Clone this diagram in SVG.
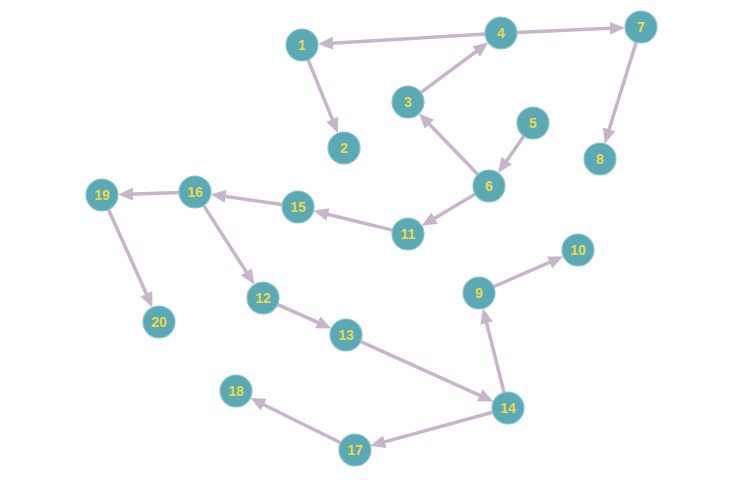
<svg xmlns="http://www.w3.org/2000/svg" width="747" height="480" viewBox="0 0 747 480">
<style>
.n circle{fill:#5ba9b4;stroke:#8ac5cc;stroke-width:1.2}
.n text{fill:#e9da4a;font-family:"Liberation Sans",Arial,sans-serif;font-weight:bold;font-size:14px;text-anchor:middle;dominant-baseline:central}
#edges path{stroke:#c7b5ca;stroke-width:3.5;fill:none;marker-end:url(#ah)}
</style>
<defs>
<marker id="ah" markerUnits="userSpaceOnUse" markerWidth="15" markerHeight="13" refX="5" refY="6.5" orient="auto">
<path d="M0,0 L15,6.5 L0,13 z" fill="#c7b5ca"/>
</marker>
</defs>
<rect width="747" height="480" fill="#fff"/>
<g id="edges">
<path d="M486.0,33.9 L328.0,43.4"/>
<path d="M516.0,32.4 L615.0,28.1"/>
<path d="M307.7,58.9 L334.2,123.9"/>
<path d="M420.0,93.1 L480.2,48.5"/>
<path d="M478.6,175.2 L426.0,120.7"/>
<path d="M524.4,135.3 L503.9,164.7"/>
<path d="M636.5,41.3 L607.7,134.1"/>
<path d="M476.1,193.6 L430.4,220.7"/>
<path d="M393.4,230.4 L323.2,213.2"/>
<path d="M283.2,204.8 L220.7,195.7"/>
<path d="M180.0,192.5 L128.0,194.2"/>
<path d="M203.1,204.6 L249.0,276.1"/>
<path d="M108.1,208.7 L148.4,298.3"/>
<path d="M276.7,304.1 L322.3,324.4"/>
<path d="M359.7,341.2 L484.3,397.3"/>
<path d="M504.3,393.5 L485.4,318.2"/>
<path d="M492.8,287.0 L554.1,260.4"/>
<path d="M493.5,412.0 L380.0,443.1"/>
<path d="M341.6,443.3 L259.3,402.5"/>
</g>
<g id="n1" class="n"><circle cx="302" cy="45" r="16"/><text x="302" y="45">1</text></g>
<g id="n2" class="n"><circle cx="344" cy="148" r="16"/><text x="344" y="148">2</text></g>
<g id="n3" class="n"><circle cx="408" cy="102" r="16"/><text x="408" y="102">3</text></g>
<g id="n4" class="n"><circle cx="501" cy="33" r="16"/><text x="501" y="33">4</text></g>
<g id="n5" class="n"><circle cx="533" cy="123" r="16"/><text x="533" y="123">5</text></g>
<g id="n6" class="n"><circle cx="489" cy="186" r="16"/><text x="489" y="186">6</text></g>
<g id="n7" class="n"><circle cx="641" cy="27" r="16"/><text x="641" y="27">7</text></g>
<g id="n8" class="n"><circle cx="600" cy="159" r="16"/><text x="600" y="159">8</text></g>
<g id="n9" class="n"><circle cx="479" cy="293" r="16"/><text x="479" y="293">9</text></g>
<g id="n10" class="n"><circle cx="578" cy="250" r="16"/><text x="578" y="250">10</text></g>
<g id="n11" class="n"><circle cx="408" cy="234" r="16"/><text x="408" y="234">11</text></g>
<g id="n12" class="n"><circle cx="263" cy="298" r="16"/><text x="263" y="298">12</text></g>
<g id="n13" class="n"><circle cx="346" cy="335" r="16"/><text x="346" y="335">13</text></g>
<g id="n14" class="n"><circle cx="508" cy="408" r="16"/><text x="508" y="408">14</text></g>
<g id="n15" class="n"><circle cx="298" cy="207" r="16"/><text x="298" y="207">15</text></g>
<g id="n16" class="n"><circle cx="195" cy="192" r="16"/><text x="195" y="192">16</text></g>
<g id="n17" class="n"><circle cx="355" cy="450" r="16"/><text x="355" y="450">17</text></g>
<g id="n18" class="n"><circle cx="236" cy="391" r="16"/><text x="236" y="391">18</text></g>
<g id="n19" class="n"><circle cx="102" cy="195" r="16"/><text x="102" y="195">19</text></g>
<g id="n20" class="n"><circle cx="159" cy="322" r="16"/><text x="159" y="322">20</text></g>
</svg>
